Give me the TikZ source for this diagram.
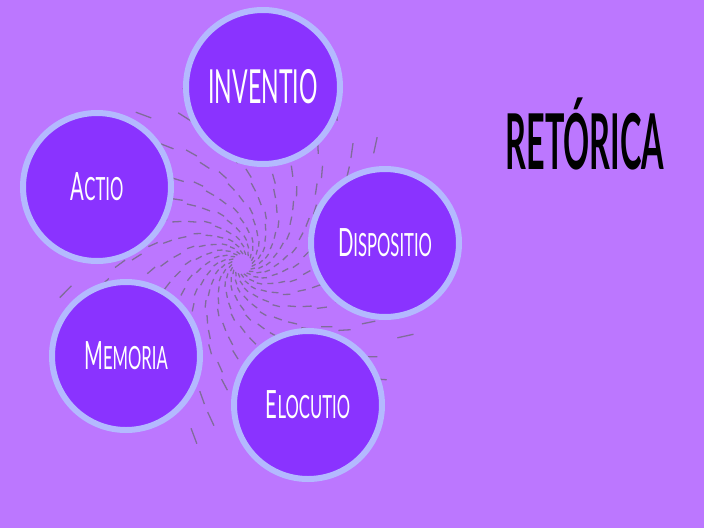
\documentclass[tikz,border=0pt]{standalone}
\usepackage{fontspec}
\setmainfont{Lato}
\usepackage{tikz}
\usetikzlibrary{positioning, calc}

\definecolor{bgviolet}{HTML}{BC77FF}
\definecolor{discviolet}{HTML}{8A33FF}
\definecolor{rimblue}{HTML}{B4B9FF}
\definecolor{dashgrey}{HTML}{806C9A}

\newcommand{\cond}[2][0.52]{\scalebox{#1}[1]{#2}}
\newcommand{\capsc}[2]{{\fontsize{39}{40}\selectfont #1}{\fontsize{32}{34}\selectfont #2}}

\begin{document}
\begin{tikzpicture}[x=1pt, y=-1pt,
    stage/.style={circle, draw=rimblue, line width=6pt, fill=discviolet,
        minimum size=148pt, inner sep=0pt, text=white},
    bigstage/.style={stage, minimum size=154pt},
    swirl/.style={dashgrey, line width=1.3pt}]
\fill[bgviolet] (0,0) rectangle (704,528);
\useasboundingbox (0,0) rectangle (704,528);
% Swirl of dashes
\def\cx{242}\def\cy{264}
\foreach \k in {0,...,21} {
    \foreach \r in {10,17,24,32,41,51,62,74,87,101,117,134,152,172} {
        \pgfmathsetmacro{\rr}{\r + 3 + 0.06*\r}
        \pgfmathsetmacro{\a}{\k*360/22 + 7*mod(\r,3) - 42*ln(\r/8)}
        \pgfmathsetmacro{\b}{\k*360/22 + 7*mod(\r,3) - 42*ln(\rr/8)}
        \draw[swirl] ({\cx + \r*cos(\a)}, {\cy + \r*sin(\a)})
            -- ({\cx + \rr*cos(\b)}, {\cy + \rr*sin(\b)});
    }
}
% Stages
\node[bigstage] (inventio) at (263,87)
    {\cond[0.49]{\fontsize{47}{48}\selectfont INVENTIO}};
\node[stage] (dispositio) at (385,243) {\cond{\capsc{D}{ISPOSITIO}}};
\node[stage] (elocutio) at (308,405) {\cond{\capsc{E}{LOCUTIO}}};
\node[stage] (memoria) at (126,356) {\cond{\capsc{M}{EMORIA}}};
\node[stage] (actio) at (97,187) {\cond{\capsc{A}{CTIO}}};
% Title
\node (retorica) at (585,134)
    {\cond[0.42]{\fontsize{77}{78}\selectfont\bfseries RETÓRICA}};
\end{tikzpicture}
\end{document}
